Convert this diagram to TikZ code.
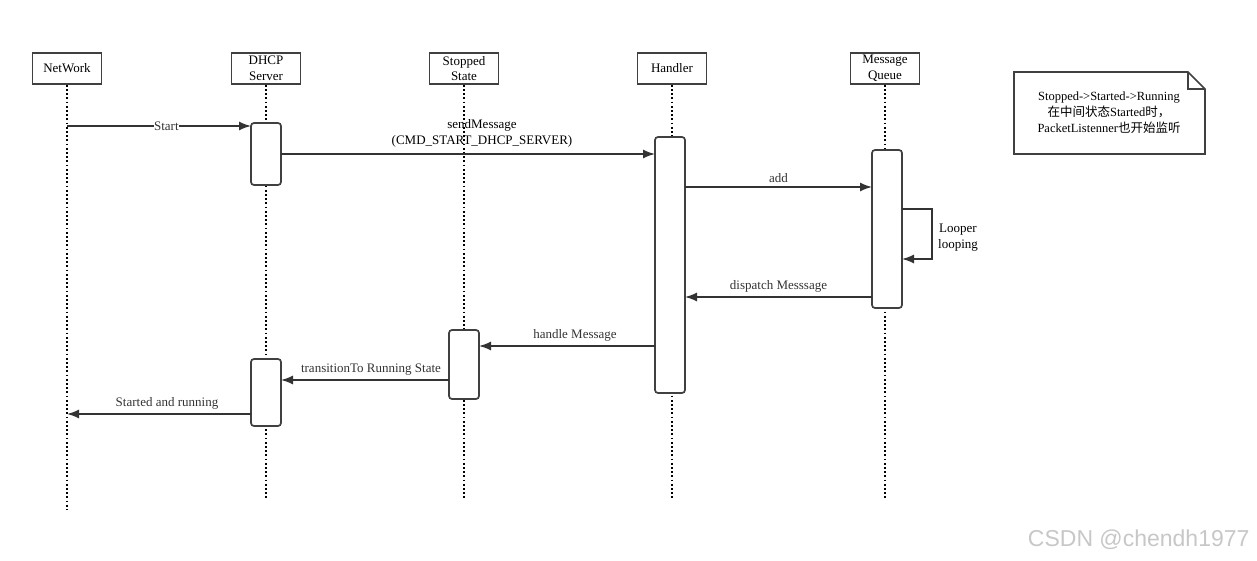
\documentclass[tikz,border=0pt]{standalone}
\usepackage{fontspec}
\setmainfont{Liberation Serif}
\newfontfamily\cjk{Noto Sans CJK SC}
\newfontfamily\wm{Liberation Sans}
\usetikzlibrary{arrows.meta}
\begin{document}
\begin{tikzpicture}[x=1pt,y=-1pt,
  hdr/.style={draw=black!75,line width=1.7pt,minimum width=69pt,minimum height=31pt,inner sep=0pt,align=center,font=\fontsize{13}{15.5}\selectfont},
  life/.style={black,line width=1.8pt,dash pattern=on 1.8pt off 2.4pt},
  act/.style={draw=black!75,fill=white,line width=1.7pt,rounded corners=3pt},
  msg/.style={black!80,line width=1.5pt,-{Latex[length=12pt,width=9pt]}},
  lbl/.style={font=\fontsize{13}{16}\selectfont,align=center,inner sep=1pt}]
\useasboundingbox (0,0) rectangle (1257,561);
\node[hdr] (h1) at (67,68.5) {NetWork};
\node[hdr] (h2) at (266,68.5) {DHCP\\Server};
\node[hdr] (h3) at (464,68.5) {Stopped\\State};
\node[hdr] (h4) at (672,68.5) {Handler};
\node[hdr] (h5) at (885,68.5) {Message\\Queue};
\coordinate (e1) at (67,510);
\coordinate (e2) at (266,500);
\coordinate (e3) at (464,500);
\coordinate (e4) at (672,500);
\coordinate (e5) at (885,500);
\foreach \i in {1,...,5} \draw[life] (h\i.south) -- (e\i);
% activations
\draw[act] (251,123) rectangle (281,185);
\draw[act] (251,359) rectangle (281,426);
\draw[act] (449,330) rectangle (479,399);
\draw[act] (655,137) rectangle (685,393);
\draw[act] (872,150) rectangle (902,308);
% messages
\draw[msg] (67,126) -- node[lbl,fill=white,inner sep=0pt,pos=0.54] {Start} (251,126);
\draw[msg] (281,154) -- (655,154);
\node[lbl] at (482,133) {sendMessage\\(CMD\_START\_DHCP\_SERVER)};
\draw[msg] (685,187) -- node[lbl,above=3pt] {add} (872,187);
\draw[msg] (902,209) -- (932,209) -- (932,259) -- (902,259);
\node[lbl] at (958,238) {Looper\\looping};
\draw[msg] (872,297) -- node[lbl,above=3pt] {dispatch Messsage} (685,297);
\draw[msg] (655,346) -- node[lbl,above=3pt,xshift=8pt] {handle Message} (479,346);
\draw[msg] (449,380) -- node[lbl,above=3pt,xshift=6pt] {transitionTo Running State} (281,380);
\draw[msg] (251,414) -- node[lbl,above=3pt,xshift=8pt] {Started and running} (67,414);
% note
\draw[draw=black!75,line width=1.7pt,fill=white] (1014,72) -- (1188,72) -- (1205,89) -- (1205,154) -- (1014,154) -- cycle;
\draw[draw=black!75,line width=1.7pt] (1188,72) -- (1188,89) -- (1205,89);
\node[align=center,font=\fontsize{12.5}{16}\selectfont] at (1109,113) {Stopped->Started->Running\\{\cjk 在中间状态}Started{\cjk 时，}\\PacketListenner{\cjk 也开始监听}};
\node[font=\wm\fontsize{23}{26}\selectfont,text=black!22,anchor=east] at (1253,540) {CSDN @chendh1977};
\end{tikzpicture}
\end{document}
